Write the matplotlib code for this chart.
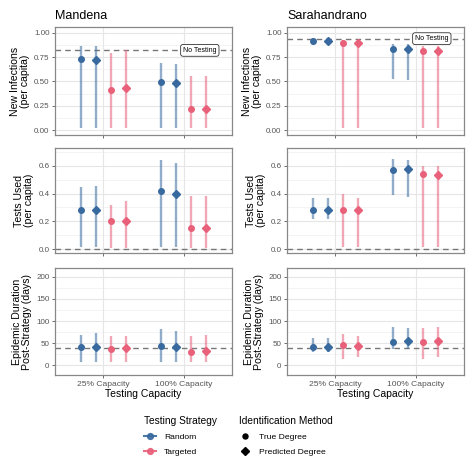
import numpy as np
import matplotlib
matplotlib.use("Agg")
import matplotlib.pyplot as plt
from matplotlib.lines import Line2D

plt.rcParams["font.family"] = ["Liberation Sans", "DejaVu Sans"]

# order inside each capacity: Random/True, Random/Predicted, Targeted/True, Targeted/Predicted
sites = ["Mandena", "Sarahandrano"]
capacities = ["25% Capacity", "100% Capacity"]
strategies = ["Random", "Random", "Targeted", "Targeted"]
methods = ["True Degree", "Predicted Degree", "True Degree", "Predicted Degree"]

# new infections (per capita)
inf_mid = {
    "Mandena": [[0.73, 0.72, 0.41, 0.43], [0.49, 0.48, 0.22, 0.22]],
    "Sarahandrano": [[0.92, 0.92, 0.90, 0.90], [0.83, 0.83, 0.81, 0.81]],
}
inf_lo = {
    "Mandena": [[0.02, 0.02, 0.02, 0.02], [0.02, 0.02, 0.02, 0.02]],
    "Sarahandrano": [[0.87, 0.87, 0.02, 0.02], [0.53, 0.52, 0.02, 0.02]],
}
inf_hi = {
    "Mandena": [[0.86, 0.86, 0.79, 0.82], [0.69, 0.68, 0.56, 0.555]],
    "Sarahandrano": [[0.95, 0.95, 0.93, 0.93], [0.89, 0.89, 0.86, 0.86]],
}
no_testing_inf = {"Mandena": 0.82, "Sarahandrano": 0.94}

# tests used (per capita)
tests_mid = {
    "Mandena": [[0.28, 0.28, 0.20, 0.205], [0.42, 0.40, 0.15, 0.15]],
    "Sarahandrano": [[0.28, 0.28, 0.285, 0.28], [0.57, 0.575, 0.537, 0.535]],
}
tests_lo = {
    "Mandena": [[0.015, 0.015, 0.01, 0.01], [0.015, 0.015, 0.01, 0.01]],
    "Sarahandrano": [[0.22, 0.22, 0.015, 0.015], [0.386, 0.374, 0.015, 0.015]],
}
tests_hi = {
    "Mandena": [[0.444, 0.456, 0.32, 0.343], [0.64, 0.62, 0.38, 0.384]],
    "Sarahandrano": [[0.37, 0.37, 0.40, 0.367], [0.65, 0.643, 0.60, 0.595]],
}
no_testing_tests = {"Mandena": 0.0, "Sarahandrano": 0.0}

# epidemic duration post-strategy (days)
dur_mid = {
    "Mandena": [[41, 41, 36, 38], [44, 42, 31, 32]],
    "Sarahandrano": [[41, 41, 46, 44], [53, 55, 53, 55]],
}
dur_lo = {
    "Mandena": [[7, 7, 7, 7], [8, 8, 8, 8]],
    "Sarahandrano": [[31, 31, 13.5, 19], [36, 37, 13.5, 18]],
}
dur_hi = {
    "Mandena": [[68, 72, 66, 66], [83, 77, 67, 68]],
    "Sarahandrano": [[62, 62, 71, 66], [86, 84, 84, 87]],
}
no_testing_dur = {"Mandena": 40, "Sarahandrano": 38}

colors = {"Random": "#386a9f", "Targeted": "#e8607a"}
markers = {"True Degree": "o", "Predicted Degree": "D"}
offsets = [-0.28, -0.093, 0.093, 0.28]

rows = [
    ("New Infections\n(per capita)", inf_mid, inf_lo, inf_hi, no_testing_inf,
     (-0.05, 1.06), [0, 0.25, 0.5, 0.75, 1.0], ["0.00", "0.25", "0.50", "0.75", "1.00"],
     [0.125, 0.375, 0.625, 0.875]),
    ("Tests Used\n(per capita)", tests_mid, tests_lo, tests_hi, no_testing_tests,
     (-0.027, 0.727), [0, 0.2, 0.4, 0.6], ["0.0", "0.2", "0.4", "0.6"],
     [0.1, 0.3, 0.5, 0.7]),
    ("Epidemic Duration\nPost-Strategy (days)", dur_mid, dur_lo, dur_hi, no_testing_dur,
     (-22, 220), [0, 50, 100, 150, 200], ["0", "50", "100", "150", "200"],
     [25, 75, 125, 175]),
]

fig = plt.figure(figsize=(4.74, 4.74), dpi=100)
lefts = [55 / 474, 287 / 474]
width = 177 / 474
rows_px = [(27, 135), (148, 253), (268, 375)]

for r, (ylab, mid, lo, hi, ref, ylim, yt, ytl, ymin) in enumerate(rows):
    top, bot = rows_px[r]
    for c, site in enumerate(sites):
        ax = fig.add_axes([lefts[c], 1 - bot / 474, width, (bot - top) / 474])
        ax.set_xlim(0.4, 2.6)
        ax.set_ylim(*ylim)
        for y in yt:
            ax.axhline(y, color="#e6e6e6", lw=0.8, zorder=0)
        for y in ymin:
            ax.axhline(y, color="#f0f0f0", lw=0.5, zorder=0)
        for x in [1, 2]:
            ax.axvline(x, color="#e6e6e6", lw=0.8, zorder=0)
        ax.axhline(ref[site], color="#777777", lw=1.0, ls=(0, (4, 3)), zorder=1)
        for k in range(2):
            for j in range(4):
                x = k + 1 + offsets[j]
                col = colors[strategies[j]]
                ax.plot([x, x], [lo[site][k][j], hi[site][k][j]], color=col,
                        lw=1.7, alpha=0.55, solid_capstyle="butt", zorder=2)
                ax.plot(x, mid[site][k][j], marker=markers[methods[j]], color=col,
                        ms=4.0 if methods[j] == "True Degree" else 3.6, zorder=3)
        if r == 0:
            ax.text(2.2, ref[site], "No Testing", fontsize=5, ha="center", va="center",
                    bbox=dict(boxstyle="round,pad=0.35", fc="white", ec="#333333", lw=0.6),
                    zorder=4)
            ax.set_title(site, loc="left", fontsize=9, pad=6)
        ax.set_yticks(yt)
        ax.set_yticklabels(ytl)
        ax.set_xticks([1, 2])
        if r == 2:
            ax.set_xticklabels(capacities, fontsize=6.1)
            ax.set_xlabel("Testing Capacity", fontsize=7.5, labelpad=1)
        else:
            ax.set_xticklabels([])
        ax.set_ylabel(ylab, fontsize=7.6, labelpad=3, linespacing=1.0)
        ax.tick_params(axis="both", labelsize=5.8, colors="#555555", length=2.5,
                       width=0.6, pad=1.5)
        ax.tick_params(axis="x", labelsize=6.1)
        for sp in ax.spines.values():
            sp.set_color("#888888")
            sp.set_linewidth(0.9)

h1 = [Line2D([], [], color=colors[s], marker="o", ms=4.2, lw=1.5, alpha=0.9)
      for s in ["Random", "Targeted"]]
leg1 = fig.legend(h1, ["Random", "Targeted"], title="Testing Strategy", loc="upper left",
                  bbox_to_anchor=(136 / 474, 1 - 408 / 474), frameon=False, fontsize=6.1,
                  title_fontsize=7.3, alignment="left", handlelength=1.5, labelspacing=0.85,
                  handletextpad=0.9)
h2 = [Line2D([], [], color="black", marker=markers[m], ls="none", ms=3.6)
      for m in ["True Degree", "Predicted Degree"]]
leg2 = fig.legend(h2, ["True Degree", "Predicted Degree"], title="Identification Method",
                  loc="upper left", bbox_to_anchor=(231 / 474, 1 - 408 / 474), frameon=False,
                  fontsize=6.1, title_fontsize=7.3, alignment="left", handlelength=1.5,
                  labelspacing=0.85, handletextpad=0.9)

fig.savefig("out.png", dpi=100)
